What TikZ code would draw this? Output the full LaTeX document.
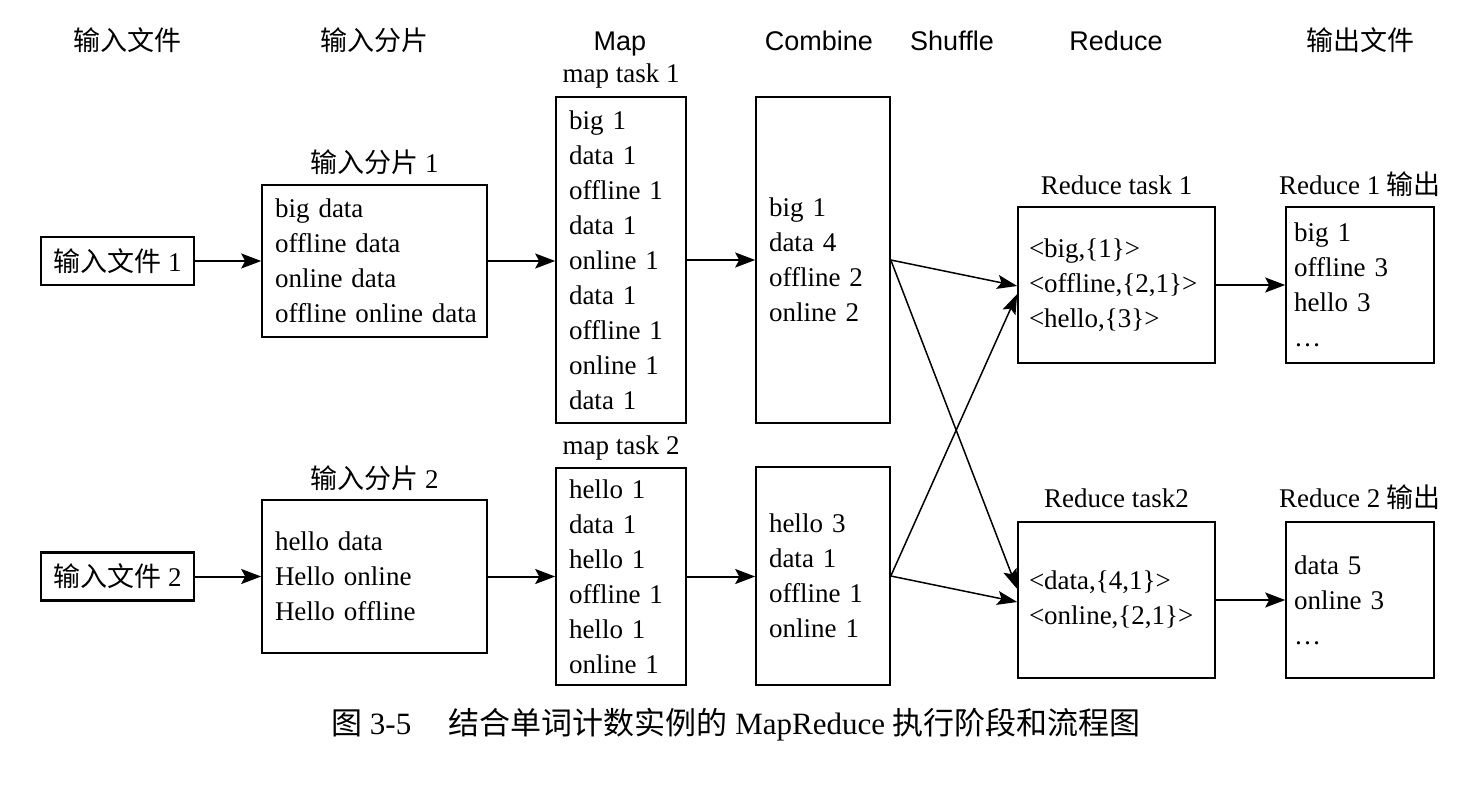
\documentclass[tikz,border=0pt]{standalone}
\usepackage{fontspec}
\setmainfont{Liberation Serif}
\setsansfont{Liberation Sans}
\newfontfamily\cjk{Noto Sans CJK SC}
\usetikzlibrary{arrows.meta}

\tikzset{
  header/.style={font=\sffamily\fontsize{27}{32}\selectfont, inner sep=0pt, anchor=base},
  tasklabel/.style={font=\fontsize{27}{32}\selectfont, inner sep=0pt, anchor=base},
  filebox/.style={draw, line width=2.6pt, inner sep=0pt, minimum width=153pt,
    minimum height=48pt, font=\fontsize{27}{32}\selectfont},
  databox/.style={draw, line width=1.6pt, inner xsep=13pt, inner ysep=0pt,
    align=left, font=\fontsize{27}{35}\selectfont},
  flow/.style={-{Stealth[length=20pt,width=15pt,inset=4pt]}, line width=2pt},
  shuffle/.style={-{Stealth[length=20pt,width=14pt,inset=4pt]}, line width=1.5pt}
}

\begin{document}
\begin{tikzpicture}[x=1pt,y=-1pt]
    \fill[white] (0,0) rectangle (1472,790);
    \useasboundingbox (0,0) rectangle (1472,790);

    % stage headers
    \node[header] (hfile) at (127,50) {\cjk 输入文件};
    \node[header] (hsplit) at (374,50) {\cjk 输入分片};
    \node[header] (hmap) at (620,50) {Map};
    \node[header] (hcomb) at (819,50) {Combine};
    \node[header] (hshuf) at (952,50) {Shuffle};
    \node[header] (hred) at (1116,50) {Reduce};
    \node[header] (hout) at (1360,50) {\cjk 输出文件};

    % input files
    \node[filebox] (file1) at (117.5,261) {{\cjk 输入文件} 1};
    \node[filebox] (file2) at (117.5,576.5) {{\cjk 输入文件} 2};

    % input splits
    \node[databox, text width=199pt, minimum height=152pt] (split1) at (374.5,261)
          {big data\\offline data\\online data\\\mbox{offline online data}};
    \node[databox, text width=199pt, minimum height=153pt] (split2) at (374.5,576.5)
          {hello data\\Hello online\\Hello offline};

    % map tasks
    \node[databox, text width=104pt, minimum height=326pt] (map1) at (621,260)
          {big 1\\data 1\\offline 1\\data 1\\online 1\\data 1\\offline 1\\online 1\\data 1};
    \node[databox, text width=104pt, minimum height=217pt] (map2) at (621,576.5)
          {hello 1\\data 1\\hello 1\\offline 1\\hello 1\\online 1};

    % combine
    \node[databox, text width=108pt, minimum height=326pt] (comb1) at (823,260)
          {big 1\\data 4\\offline 2\\online 2};
    \node[databox, text width=108pt, minimum height=218pt] (comb2) at (823,576)
          {hello 3\\data 1\\offline 1\\online 1};

    % reduce tasks
    \node[databox, inner xsep=11pt, text width=175pt, minimum height=156pt] (red1) at (1116.5,285)
          {<big,\{1\}>\\<offline,\{2,1\}>\\<hello,\{3\}>};
    \node[databox, inner xsep=11pt, text width=175pt, minimum height=156pt] (red2) at (1116.5,600)
          {<data,\{4,1\}>\\<online,\{2,1\}>};

    % outputs
    \node[databox, inner xsep=8pt, text width=132pt, minimum height=156pt] (out1) at (1360,285)
          {big 1\\offline 3\\hello 3\\\ldots};
    \node[databox, inner xsep=8pt, text width=132pt, minimum height=156pt] (out2) at (1360,600)
          {data 5\\online 3\\\ldots};

    % labels above boxes
    \node[tasklabel] (lsplit1) at ([yshift=12pt]split1.north) {{\cjk 输入分片} 1};
    \node[tasklabel] (lsplit2) at ([yshift=11pt]split2.north) {{\cjk 输入分片} 2};
    \node[tasklabel] (lmap1) at ([yshift=14pt]map1.north) {map task 1};
    \node[tasklabel] (lmap2) at ([yshift=13pt]map2.north) {map task 2};
    \node[tasklabel] (lred1) at ([yshift=12pt]red1.north) {Reduce task 1};
    \node[tasklabel] (lred2) at ([yshift=14pt]red2.north) {Reduce task2};
    \node[tasklabel] (lout1) at ([yshift=12pt]out1.north) {Reduce 1 {\cjk 输出}};
    \node[tasklabel] (lout2) at ([yshift=14pt]out2.north) {Reduce 2 {\cjk 输出}};

    % arrows
    \draw[flow] (file1) -- (split1);
    \draw[flow] (file2) -- (split2);
    \draw[flow] (split1.east) -- (split1.east -| map1.west);
    \draw[flow] (split2.east) -- (split2.east -| map2.west);
    \draw[flow] (map1) -- (comb1);
    \draw[flow] (map2.east) -- (map2.east -| comb2.west);
    \draw[flow] (red1) -- (out1);
    \draw[flow] (red2) -- (out2);

    % shuffle
    \draw[shuffle] (comb1.east) -- ([yshift=-1pt]red1.west);
    \draw[shuffle] (comb1.east) -- ([yshift=11pt]red2.west);
    \draw[shuffle] (comb2.east) -- ([yshift=-9pt]red1.west);
    \draw[shuffle] (comb2.east) -- ([yshift=-2pt]red2.west);

    % caption
    \node[font=\fontsize{31}{36}\selectfont, inner sep=0pt] (cap) at (736,725)
          {{\cjk 图} 3-5\hspace{1.2em}{\cjk 结合单词计数实例的} MapReduce {\cjk 执行阶段和流程图}};
\end{tikzpicture}
\end{document}
